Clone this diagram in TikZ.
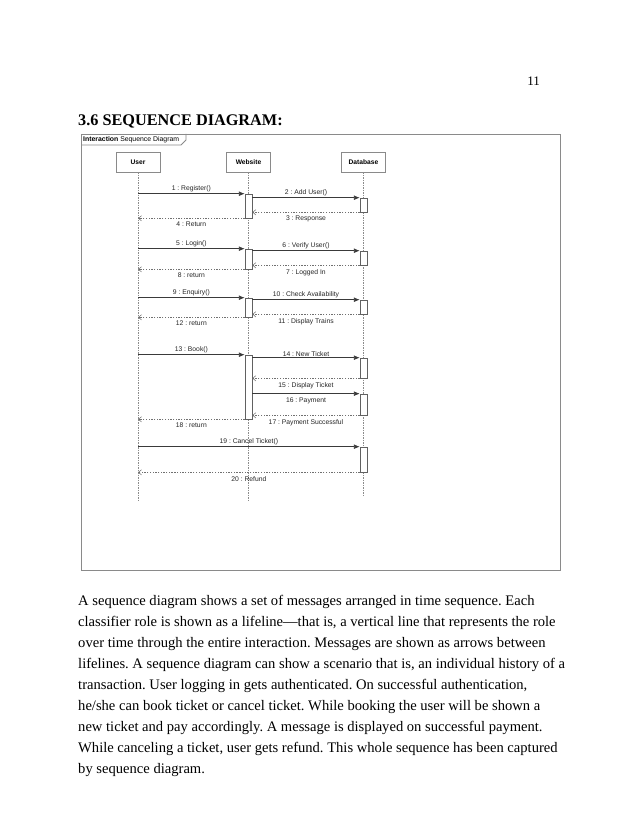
\documentclass[tikz,border=0pt]{standalone}
\usepackage{fontspec}
\setmainfont{Liberation Serif}
\setsansfont{Liberation Sans}
\usetikzlibrary{arrows.meta}
\definecolor{lin}{HTML}{3A3A3A}
\definecolor{frm}{HTML}{8A8A8A}
\definecolor{dot}{HTML}{8C8C8C}
\frenchspacing
\begin{document}
\begin{tikzpicture}[x=0.96pt,y=-0.96pt,
  head/.style={draw=frm, line width=0.7pt, fill=white, minimum width=42.2pt, minimum height=19.2pt, inner sep=0pt, font=\sffamily\fontsize{6.4}{7}\selectfont\bfseries},
  act/.style={draw=lin!80, line width=0.6pt, fill=white, minimum width=6.7pt, inner sep=0pt},
  life/.style={draw=dot, line width=0.7pt, dash pattern=on 1.2pt off 1.2pt},
  sync/.style={draw=lin, line width=0.6pt, -{Latex[length=5.5pt,width=4.5pt]}},
  ret/.style={draw=dot!80!black, line width=0.6pt, dash pattern=on 1.3pt off 1.3pt, -{Straight Barb[length=3pt,width=5pt,line width=0.5pt]}},
  lab/.style={font=\sffamily\fontsize{6.5}{7}\selectfont, inner sep=1.2pt, text=black!85},
  blab/.style={lab, below=2.2pt},
  body/.style={anchor=base west, inner sep=0pt, font=\fontsize{14}{16}\selectfont}]
\useasboundingbox (0,0) rectangle (638,826);
\fill[white] (0,0) rectangle (638,826);

% page header
\node[anchor=base east, inner sep=0pt, font=\fontsize{12.5}{14}\selectfont] (pg) at (540,86) {11};
\node[anchor=base west, inner sep=0pt, font=\fontsize{15.6}{18}\selectfont\bfseries] (title) at (78,126) {3.6 SEQUENCE DIAGRAM:};

% frame
\draw[frm, line width=0.9pt] (81,134) rectangle (560,570);
\draw[frm, line width=0.7pt] (81,145) -- (181,145) -- (186,140) -- (186,134);
\node[anchor=west, inner sep=0pt, font=\sffamily\fontsize{6.6}{7}\selectfont] (flab) at (83,139.5) {\textbf{Interaction} Sequence Diagram};

% heads
\node[head] (user) at (138,162) {User};
\node[head] (web) at (248.5,162) {Website};
\node[head] (db) at (363.5,162) {Database};
\coordinate (endu) at (0,502);
\coordinate (endw) at (0,500);
\coordinate (endd) at (0,495);
\draw[life] (user.south) -- (user.south |- endu);
\draw[life] (web.south) -- (web.south |- endw);
\draw[life] (db.south) -- (db.south |- endd);
\coordinate (uL) at (138,0);

% activations
\node[act, minimum height=23.0pt] (w1) at (248.5,206) {};
\node[act, minimum height=19.2pt] (w2) at (248.5,259) {};
\node[act, minimum height=18.2pt] (w3) at (248.5,307.5) {};
\node[act, minimum height=61.4pt] (w4) at (248.5,387) {};
\node[act, minimum height=13.4pt] (d1) at (363.5,205) {};
\node[act, minimum height=13.4pt] (d2) at (363.5,258) {};
\node[act, minimum height=13.4pt] (d3) at (363.5,307) {};
\node[act, minimum height=19.2pt] (d4) at (363.5,368) {};
\node[act, minimum height=20.2pt] (d5) at (363.5,404.5) {};
\node[act, minimum height=24.0pt] (d6) at (363.5,459.5) {};

% messages
\draw[sync] (w1.north west -| uL) -- node[lab, above] {1 : Register()} (w1.north west);
\draw[sync] (w1.east |- d1.north) -- node[lab, above] {2 : Add User()} (d1.north west);
\draw[ret] (d1.south west) -- node[blab] {3 : Response} (w1.east |- d1.south);
\draw[ret] (w1.south west) -- node[blab] {4 : Return} (w1.south west -| uL);

\draw[sync] (w2.north west -| uL) -- node[lab, above] {5 : Login()} (w2.north west);
\draw[sync] (w2.east |- d2.north) -- node[lab, above] {6 : Verify User()} (d2.north west);
\draw[ret] (d2.south west) -- node[blab] {7 : Logged In} (w2.east |- d2.south);
\draw[ret] (w2.south west) -- node[blab] {8 : return} (w2.south west -| uL);

\draw[sync] (w3.north west -| uL) -- node[lab, above] {9 : Enquiry()} (w3.north west);
\draw[sync] (w3.east |- d3.north) -- node[lab, above] {10 : Check Availability} (d3.north west);
\draw[ret] (d3.south west) -- node[blab] {11 : Display Trains} (w3.east |- d3.south);
\draw[ret] (w3.south west) -- node[blab] {12 : return} (w3.south west -| uL);

\draw[sync] (w4.north west -| uL) -- node[lab, above] {13 : Book()} (w4.north west);
\draw[sync] (w4.east |- d4.north) -- node[lab, above] {14 : New Ticket} (d4.north west);
\draw[ret] (d4.south west) -- node[blab] {15 : Display Ticket} (w4.east |- d4.south);
\draw[sync] (w4.east |- d5.north) -- node[blab] {16 : Payment} (d5.north west);
\draw[ret] (d5.south west) -- node[blab] {17 : Payment Successful} (w4.east |- d5.south);
\draw[ret] (w4.south west) -- node[blab] {18 : return} (w4.south west -| uL);

\draw[sync] (d6.north west -| uL) -- node[lab, above] {19 : Cancel Ticket()} (d6.north west);
\draw[ret] (d6.south west) -- node[blab] {20 : Refund} (d6.south west -| uL);

% body text
\node[body] (t1) at (78,605) {A sequence diagram shows a set of messages arranged in time sequence. Each};
\node[body] (t2) at (78,626) {classifier role is shown as a lifeline—that is, a vertical line that represents the role};
\node[body] (t3) at (78,647) {over time through the entire interaction. Messages are shown as arrows between};
\node[body] (t4) at (78,668) {lifelines. A sequence diagram can show a scenario that is, an individual history of a};
\node[body] (t5) at (78,689) {transaction. User logging in gets authenticated. On successful authentication,};
\node[body] (t6) at (78,710) {he/she can book ticket or cancel ticket. While booking the user will be shown a};
\node[body] (t7) at (78,731) {new ticket and pay accordingly. A message is displayed on successful payment.};
\node[body] (t8) at (78,752) {While canceling a ticket, user gets refund. This whole sequence has been captured};
\node[body] (t9) at (78,773) {by sequence diagram.};
\end{tikzpicture}
\end{document}
